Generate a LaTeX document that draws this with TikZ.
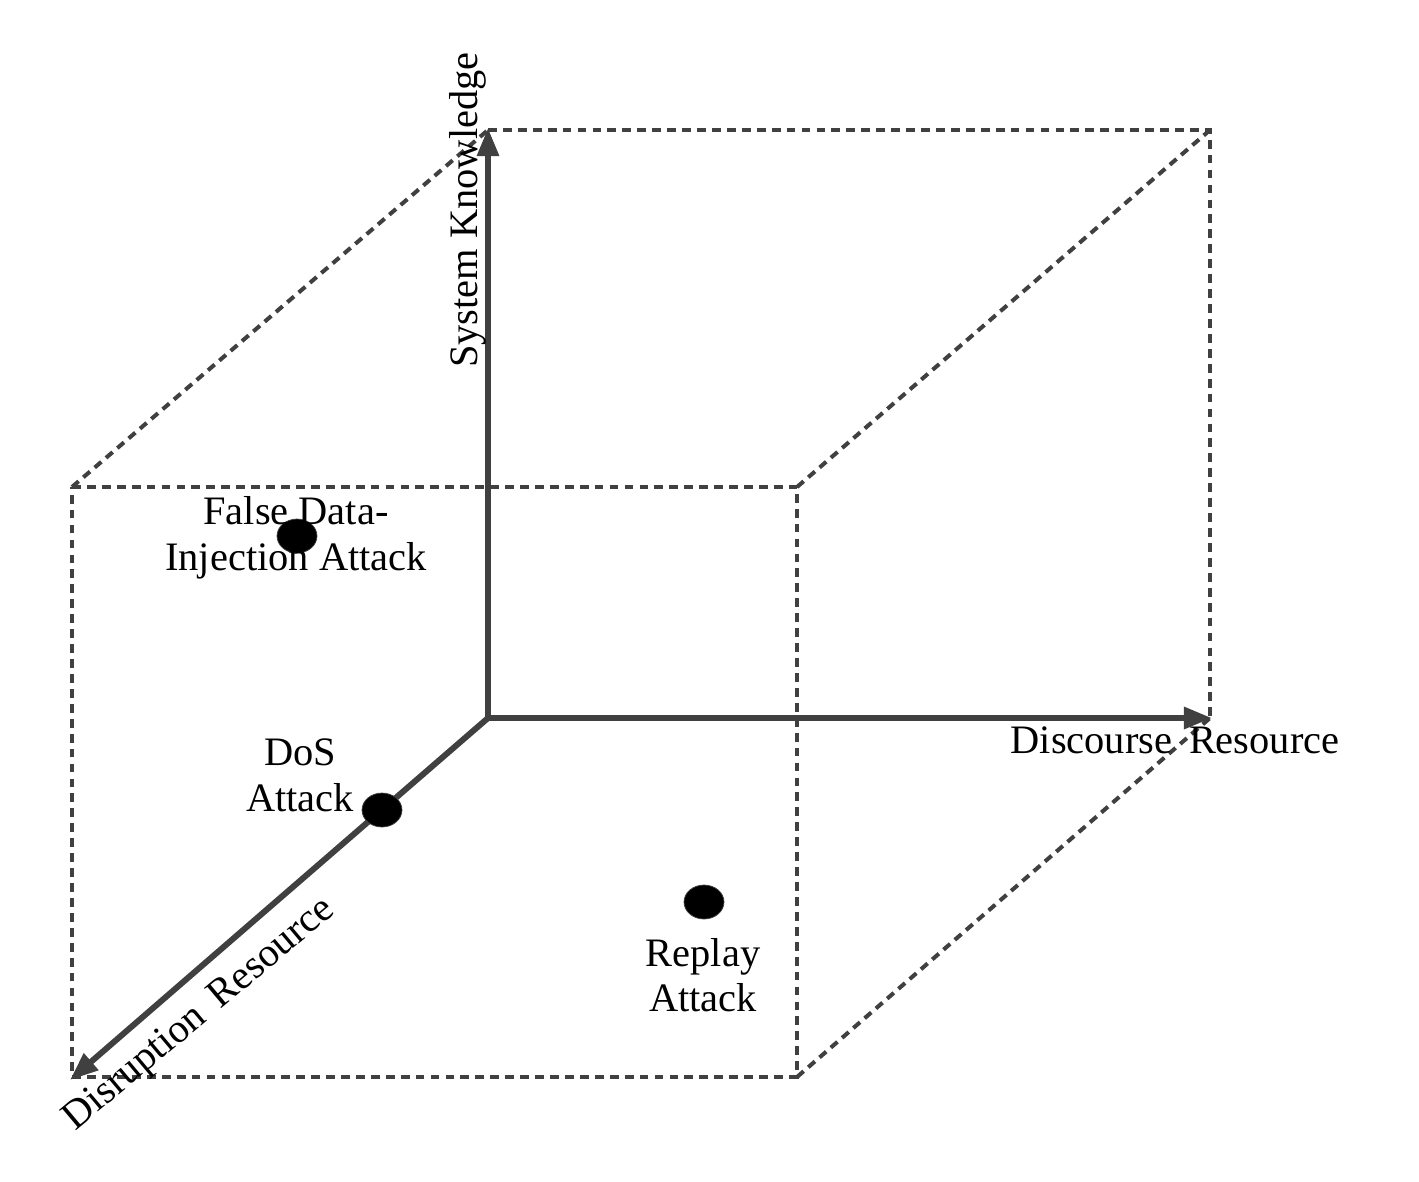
\documentclass[tikz,border=0pt]{standalone}
\usepackage{fontspec}
\setmainfont{Liberation Serif}
\usetikzlibrary{arrows.meta,shapes.geometric}
\definecolor{lc}{HTML}{404040}
\begin{document}
\begin{tikzpicture}[x=0.02cm,y=-0.02cm,
  box/.style={draw=lc,line width=2.3pt,dash pattern=on 5pt off 3.5pt},
  axis/.style={draw=lc,line width=3.4pt,-{Triangle[length=16pt,width=12pt]}},
  dot/.style={fill=black,draw=lc,ellipse,minimum width=0.8cm,minimum height=0.68cm},
  lab/.style={font=\fontsize{23}{26}\selectfont,align=center,inner sep=0pt}]
\useasboundingbox (0,0) rectangle (1419,1181);
\coordinate (O) at (488,718);
\coordinate (A) at (72,487); \coordinate (B) at (797,487);
\coordinate (C) at (797,1077); \coordinate (D) at (72,1077);
\coordinate (E) at (488,130); \coordinate (F) at (1210,130); \coordinate (G) at (1210,718);
\draw[box] (A) -- (B) -- (C) -- (D) -- cycle;
\draw[box] (E) -- (F) -- (G);
\draw[box] (A) -- (E); \draw[box] (B) -- (F); \draw[box] (C) -- (G);
\coordinate (Xe) at (1212,718); \coordinate (Ye) at (488,128); \coordinate (Ze) at (70,1080);
\draw[axis] (O) -- (Ye);
\draw[axis] (O) -- (Xe);
\draw[axis] (O) -- (Ze);
\node[dot] (d1) at (297,536) {};
\node[dot] (d2) at (382,810) {};
\node[dot] (d3) at (704,902) {};
\node[lab] (t1) at (296,538) {False Data-\\Injection Attack};
\node[lab] (t2) at (300,775) {DoS\\Attack};
\node[lab] (t3) at (703,975) {Replay\\Attack};
\node[lab] (ty) at (468,210) [rotate=90] {System Knowledge};
\node[lab] (tx) at (1175,740) {Discourse\, Resource};
\node[lab] (tz) at (200,1015) [rotate=40] {Disruption\, Resource};
\end{tikzpicture}
\end{document}
